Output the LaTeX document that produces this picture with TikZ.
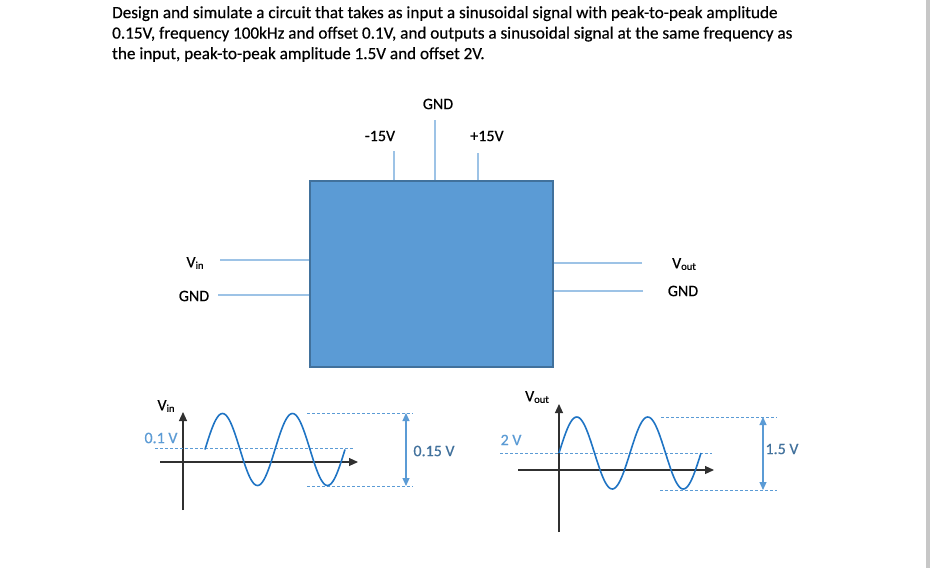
\documentclass[tikz,border=0pt]{standalone}
\usepackage{fontspec}
\setmainfont{Carlito}[UprightFeatures={FakeBold=0.4}]
\usetikzlibrary{arrows.meta}
\definecolor{boxfill}{HTML}{5B9BD5}
\definecolor{boxedge}{HTML}{41719C}
\definecolor{pinc}{HTML}{9DC3E6}
\definecolor{dashc}{HTML}{5B9BD5}
\definecolor{sinec}{HTML}{1F74C4}
\definecolor{axisc}{HTML}{303030}
\definecolor{darklab}{HTML}{41719C}
\begin{document}
\begin{tikzpicture}[x=1pt,y=-1pt,
  box/.style={draw=boxedge,line width=1.2pt,fill=boxfill,minimum width=243pt,minimum height=186pt,inner sep=0pt},
  pin/.style={draw=pinc,line width=1.6pt},
  lab/.style={font=\fontsize{16}{18}\selectfont,inner sep=0pt,anchor=center},
  axis/.style={draw=axisc,line width=1.1pt},
  axarrow/.style={axis,-{Triangle[length=9pt,width=8pt]}},
  guide/.style={draw=dashc,line width=0.8pt,dash pattern=on 3pt off 2pt},
  span/.style={draw=dashc,line width=1.1pt,{Triangle[length=8pt,width=7pt]}-{Triangle[length=8pt,width=7pt]}},
  wave/.style={draw=sinec,line width=1.6pt},
  bluelab/.style={lab,text=dashc},
  darkblab/.style={lab,text=darklab}]
\useasboundingbox (0,0) rectangle (930,568);
\fill[white] (0,0) rectangle (930,568);
\fill[black!22] (926,0) rectangle (930,568);

% title
\node[anchor=north west,inner sep=0pt,align=left,font=\fontsize{17.15}{20.5}\selectfont] (title) at (112,6)
{Design and simulate a circuit that takes as input a sinusoidal signal with peak-to-peak amplitude\\
0.15V, frequency 100kHz and offset 0.1V, and outputs a sinusoidal signal at the same frequency as\\
the input, peak-to-peak amplitude 1.5V and offset 2V.};

% amplifier box
\node[box] (amp) at (431.5,274) {};

% top pins
\coordinate (tneg) at (394,151);
\coordinate (tgnd) at (435,120);
\coordinate (tpos) at (478,153);
\draw[pin] (tneg) -- (tneg |- amp.north);
\draw[pin] (tgnd) -- (tgnd |- amp.north);
\draw[pin] (tpos) -- (tpos |- amp.north);
\node[lab] (lneg) at (380,136) {-15V};
\node[lab] (lgnd) at (438,104) {GND};
\node[lab] (lpos) at (487,136) {+15V};

% left pins
\coordinate (lin) at (220,260);
\coordinate (lg) at (218,295);
\draw[pin] (lin) -- (lin -| amp.west);
\draw[pin] (lg) -- (lg -| amp.west);
\node[lab] (vinl) at (195,263) {V\raisebox{-1.5pt}{\fontsize{10.5}{10}\selectfont in}};
\node[lab] (gndl) at (194,296) {GND};

% right pins
\coordinate (rout) at (642,263);
\coordinate (rg) at (643,291);
\draw[pin] (rout) -- (rout -| amp.east);
\draw[pin] (rg) -- (rg -| amp.east);
\node[lab] (voutl) at (684,264) {V\raisebox{-1.5pt}{\fontsize{10.5}{10}\selectfont out}};
\node[lab] (gndr) at (683,291) {GND};

% ---- input waveform ----
\coordinate (iyb) at (183,510);
\coordinate (iyt) at (183,412);
\coordinate (ixl) at (160,462);
\coordinate (ixr) at (358,462);
\draw[axarrow] (iyb) -- (iyt);
\draw[axarrow] (ixl) -- (ixr);
\coordinate (ioffl) at (155,448);
\coordinate (ioffr) at (354,448);
\draw[guide] (ioffl) -- (ioffr);
\coordinate (itl) at (307,413);
\coordinate (itr) at (413,413);
\coordinate (ibl) at (307,486);
\coordinate (ibr) at (413,486);
\draw[guide] (itl) -- (itr);
\draw[guide] (ibl) -- (ibr);
\coordinate (ia1) at (406,413);
\coordinate (ia2) at (406,486);
\draw[span] (ia1) -- (ia2);
\draw[wave] plot[domain=0:140,samples=120,smooth] ({205+\x},{449.5-36*sin(\x/70*360)});
\node[lab] (vinw) at (166,406) {V\raisebox{-1.5pt}{\fontsize{10.5}{10}\selectfont in}};
\node[bluelab] (ioff) at (161,438) {0.1 V};
\node[darkblab] (ipp) at (434,451) {0.15 V};

% ---- output waveform ----
\coordinate (oyb) at (559,532);
\coordinate (oyt) at (559,404);
\coordinate (oxl) at (518,470);
\coordinate (oxr) at (714,470);
\draw[axarrow] (oyb) -- (oyt);
\draw[axarrow] (oxl) -- (oxr);
\coordinate (ooffl) at (500,453);
\coordinate (ooffr) at (712,453);
\draw[guide] (ooffl) -- (ooffr);
\coordinate (otl) at (661,417);
\coordinate (otr) at (777,417);
\coordinate (obl) at (660,490);
\coordinate (obr) at (777,490);
\draw[guide] (otl) -- (otr);
\draw[guide] (obl) -- (obr);
\coordinate (oa1) at (763,417);
\coordinate (oa2) at (763,490);
\draw[span] (oa1) -- (oa2);
\draw[wave] plot[domain=0:142,samples=120,smooth] ({559+\x},{453-36*sin(\x/71*360)});
\node[lab] (voutw) at (537,397) {V\raisebox{-1.5pt}{\fontsize{10.5}{10}\selectfont out}};
\node[bluelab] (ooff) at (511,440) {2 V};
\node[darkblab] (opp) at (782,449) {1.5 V};
\end{tikzpicture}
\end{document}
